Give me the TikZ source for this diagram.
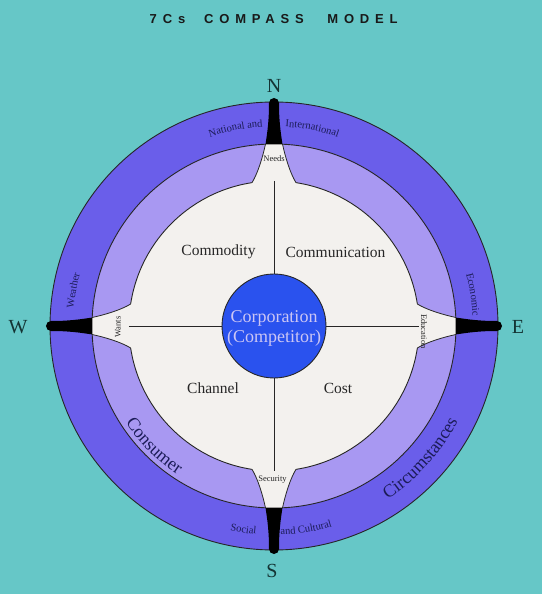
\documentclass[tikz,border=0pt]{standalone}
\usepackage{fontspec}
\setmainfont{Liberation Serif}
\newfontfamily\titlefont[LetterSpace=45]{Liberation Sans}
\usetikzlibrary{decorations.text}
\definecolor{bg}{HTML}{66C7C7}
\definecolor{outerring}{HTML}{6A5EEA}
\definecolor{midring}{HTML}{A898F2}
\definecolor{paper}{HTML}{F3F1EE}
\definecolor{core}{HTML}{2A52EE}
\definecolor{coretext}{HTML}{CCC6F4}
\definecolor{ink}{HTML}{1C1C58}
\definecolor{dirink}{HTML}{143434}
\tikzset{
  disc/.style={circle, inner sep=0pt, outer sep=0pt, draw=black!85, line width=0.9pt},
  dirlabel/.style={text=dirink, font=\fontsize{20}{22}\selectfont, inner sep=0pt},
  quadlabel/.style={text=black!85, font=\fontsize{15.5}{18}\selectfont, inner sep=0pt},
  spikelabel/.style={text=black!85, font=\fontsize{8.5}{10}\selectfont, inner sep=0pt},
  titlepart/.style={text=black!90, font=\titlefont\bfseries\fontsize{13}{15}\selectfont, inner sep=0pt},
  ringtext/.style={decorate, decoration={text along path, text align=center, text color=ink, text={|\fontsize{10.5}{12}\selectfont|#1}}},
  bigringtext/.style={decorate, decoration={text along path, text align=center, text color=ink, text={|\fontsize{18}{20}\selectfont|#1}}},
}
\begin{document}
\begin{tikzpicture}[x=1pt,y=1pt]
\fill[bg] (-274,-268) rectangle (268,326);
\useasboundingbox (-274,-268) rectangle (268,326);

% title
\node[titlepart] (t1) at (-106.5,306.5) {7Cs};
\node[titlepart] (t2) at (-20,306.5) {COMPASS};
\node[titlepart] (t3) at (88.5,306.5) {MODEL};

% rings
\node[disc, minimum size=448, fill=outerring] (outer) at (0,0) {};
\node[disc, minimum size=364, fill=midring] (middle) at (0,0) {};
\node[disc, minimum size=290, fill=paper] (inner) at (0,0) {};

% compass spikes
\foreach \r in {0,90,180,270} {
  \begin{scope}[rotate=\r]
    \fill[paper] (8.5,182) .. controls (11,170) and (16,153) .. (22,143.3) -- (22,132) -- (-22,132) -- (-22,143.3) .. controls (-16,153) and (-11,170) .. (-8.5,182) -- cycle;
    \draw[black!85, line width=0.8pt] (8.5,182) .. controls (11,170) and (16,153) .. (22,143.3);
    \draw[black!85, line width=0.8pt] (-8.5,182) .. controls (-11,170) and (-16,153) .. (-22,143.3);
    \fill[black] (-8.5,181.5) .. controls (-6.5,195) and (-5,205) .. (-5,223) arc[start angle=180, end angle=0, radius=5] .. controls (5,205) and (6.5,195) .. (8.5,181.5) -- cycle;
  \end{scope}
}

% cross lines
\draw[black!85, line width=0.9pt] (inner.north) -- (inner.south);
\draw[black!85, line width=0.9pt] (inner.west) -- (inner.east);

% core
\node[disc, minimum size=104, fill=core] (core) at (0,0) {};
\node[text=coretext, align=center, font=\fontsize{18}{20}\selectfont, inner sep=0pt] (coretxt) at (0,-2) {Corporation\\(Competitor)};

% quadrant labels
\node[quadlabel] (commodity) at (-55.5,74) {Commodity};
\node[quadlabel] (communication) at (61.5,74) {Communication};
\node[quadlabel] (channel) at (-61,-62) {Channel};
\node[quadlabel] (cost) at (64,-62) {Cost};

% spike labels
\node[spikelabel] (needs) at (0,167) {Needs};
\node[spikelabel, rotate=90] (wants) at (-156,-1) {Wants};
\node[spikelabel, rotate=-90] (education) at (150,-5.5) {Education};
\node[spikelabel] (security) at (-1.5,-154) {Security};

% direction letters
\node[dirlabel] (N) at (0,240.5) {N};
\node[dirlabel] (W) at (-256,-1) {W};
\node[dirlabel] (E) at (244,-1) {E};
\node[dirlabel] (S) at (-2,-245) {S};

% outer ring texts
\path[ringtext={National and}] (126:199.5) arc[start angle=126, end angle=76, radius=199.5];
\path[ringtext={International}] (104:199.5) arc[start angle=104, end angle=54, radius=199.5];
\path[ringtext={Weather}] (195:201) arc[start angle=195, end angle=145, radius=201];
\path[ringtext={Economic}] (35:199) arc[start angle=35, end angle=-17, radius=199];
\path[ringtext={Social}] (240:209) arc[start angle=240, end angle=283, radius=209];
\path[ringtext={and Cultural}] (250:209) arc[start angle=250, end angle=308, radius=209];
\path[bigringtext={Circumstances}] (280:207) arc[start angle=280, end angle=356, radius=207];
\path[bigringtext={Consumer}] (191:177) arc[start angle=191, end angle=259, radius=177];
\end{tikzpicture}
\end{document}
